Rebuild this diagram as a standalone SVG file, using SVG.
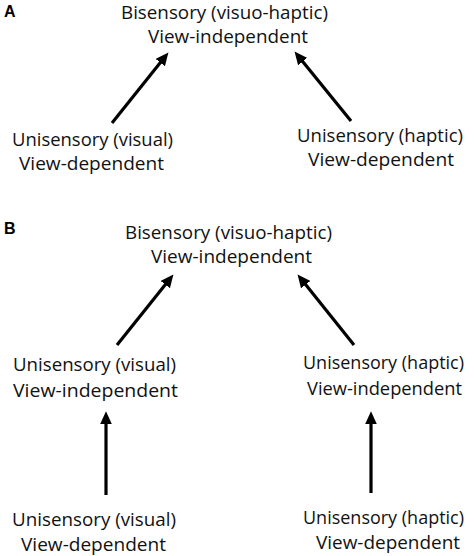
<svg xmlns="http://www.w3.org/2000/svg" width="474" height="556" viewBox="0 0 474 556">
<style>
.t{font-family:"Open Sans","Liberation Sans",sans-serif;font-size:19px;fill:#111}
.p{font-family:"Liberation Sans",Arial,sans-serif;font-size:16px;font-weight:bold;fill:#000}
.c{stroke:#000;stroke-width:3.2;fill:none;marker-end:url(#ah)}
</style>
<defs>
<marker id="ah" markerUnits="userSpaceOnUse" markerWidth="13" markerHeight="12" refX="4" refY="5.5" orient="auto" viewBox="0 0 12 11">
<path d="M0,0 L12,5.5 L0,11 z" fill="#000"/>
</marker>
</defs>
<rect width="474" height="556" fill="#fff"/>
<text class="p" x="4" y="17">A</text>
<text class="p" x="4" y="234">B</text>
<g id="a-bi"><text class="t" x="121" y="19" textLength="207" lengthAdjust="spacingAndGlyphs">Bisensory (visuo-haptic)</text><text class="t" x="148" y="43" textLength="160" lengthAdjust="spacingAndGlyphs">View-independent</text></g>
<g id="a-vis"><text class="t" x="12" y="146" textLength="161" lengthAdjust="spacingAndGlyphs">Unisensory (visual)</text><text class="t" x="19" y="170" textLength="145" lengthAdjust="spacingAndGlyphs">View-dependent</text></g>
<g id="a-hap"><text class="t" x="297" y="142" textLength="166" lengthAdjust="spacingAndGlyphs">Unisensory (haptic)</text><text class="t" x="308" y="166" textLength="146" lengthAdjust="spacingAndGlyphs">View-dependent</text></g>
<g id="b-bi"><text class="t" x="125" y="239" textLength="207" lengthAdjust="spacingAndGlyphs">Bisensory (visuo-haptic)</text><text class="t" x="151" y="263" textLength="161" lengthAdjust="spacingAndGlyphs">View-independent</text></g>
<g id="b-vis-ind"><text class="t" x="13" y="371" textLength="163" lengthAdjust="spacingAndGlyphs">Unisensory (visual)</text><text class="t" x="13" y="397" textLength="165" lengthAdjust="spacingAndGlyphs">View-independent</text></g>
<g id="b-hap-ind"><text class="t" x="303" y="369" textLength="161" lengthAdjust="spacingAndGlyphs">Unisensory (haptic)</text><text class="t" x="307" y="395" textLength="155" lengthAdjust="spacingAndGlyphs">View-independent</text></g>
<g id="b-vis-dep"><text class="t" x="12" y="526" textLength="164" lengthAdjust="spacingAndGlyphs">Unisensory (visual)</text><text class="t" x="21" y="551" textLength="145" lengthAdjust="spacingAndGlyphs">View-dependent</text></g>
<g id="b-hap-dep"><text class="t" x="303" y="524" textLength="161" lengthAdjust="spacingAndGlyphs">Unisensory (haptic)</text><text class="t" x="316" y="549" textLength="144" lengthAdjust="spacingAndGlyphs">View-dependent</text></g>
<g id="connectors">
<line class="c" x1="112" y1="123" x2="163" y2="59.2"/>
<line class="c" x1="351" y1="121" x2="300" y2="58.2"/>
<line class="c" x1="117" y1="345" x2="168" y2="281.2"/>
<line class="c" x1="354" y1="345" x2="303" y2="281.2"/>
<line class="c" x1="106" y1="495" x2="106" y2="420"/>
<line class="c" x1="371" y1="493" x2="371" y2="420"/>
</g>
</svg>
